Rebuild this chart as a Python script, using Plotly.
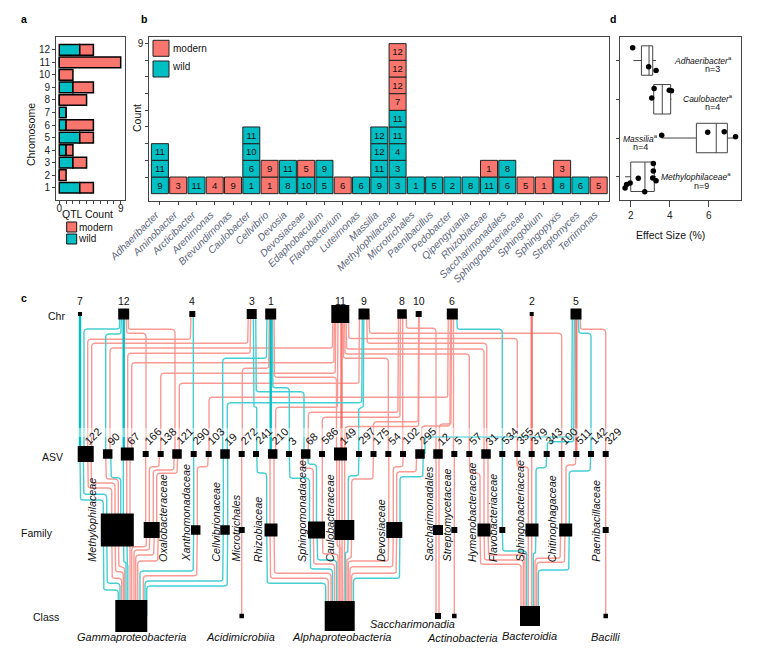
import math
import plotly.graph_objects as go

MOD, WILD = "#F8766D", "#00BFC4"
MOD_L, WILD_L = "#FB9A94", "#45CFD2"
FONT = "Liberation Sans"
W, H = 776, 648

# ---------- panel a ----------
chrom = list(range(1, 13))
qtl_wild = [3, 0, 2, 1, 3, 1, 1, 0, 2, 0, 0, 3]
qtl_modern = [2, 1, 2, 1, 2, 4, 0, 4, 3, 2, 9, 2]

# ---------- panel b ----------
genera = ["Adhaeribacter", "Aminobacter", "Arcticibacter", "Arenimonas", "Brevundimonas", "Caulobacter",
          "Cellvibrio", "Devosia", "Devosiaceae", "Edaphobaculum", "Flavobacterium", "Luteimonas", "Massilia",
          "Methylophilaceae", "Microtrichales", "Paenibacillus", "Pedobacter", "Qipengyuania", "Rhizobiaceae",
          "Saccharimonadales", "Sphingobacteriaceae", "Sphingobium", "Sphingopyxis", "Streptomyces", "Terrimonas"]
stack_types = ["www", "m", "w", "m", "m", "wwww", "mm", "ww", "wm", "ww", "m", "w", "wwww", "wwwwwmmmm",
               "w", "w", "w", "w", "wm", "ww", "m", "m", "wm", "w", "m"]
stack_chr = [[9, 11, 11], [3], [11], [4], [9], [1, 6, 10, 11], [1, 9], [8, 11], [10, 5], [5, 9], [6], [6],
             [9, 11, 12, 12], [3, 3, 4, 11, 11, 7, 12, 12, 12], [1], [5], [2], [8], [11, 1], [6, 8], [5], [1],
             [8, 3], [6], [5]]

# ---------- panel d ----------
box_names = ["Methylophilaceae", "Massilia", "Caulobacter", "Adhaeribacter"]
box_pos = [1, 2, 3, 4]
box_low = [1.71, 3.59, 3.18, 2.14]
box_q1 = [2.0, 5.37, 3.18, 2.55]
box_med = [2.73, 6.39, 3.62, 2.94]
box_q3 = [3.21, 6.96, 4.05, 3.13]
box_high = [3.30, 7.38, 4.09, 3.30]
pts_x = [3.16, 3.16, 3.13, 3.30, 2.39, 2.72, 1.97, 1.79, 1.71, 3.59, 5.95, 6.80, 7.38,
         3.20, 3.08, 3.98, 4.09, 2.10, 2.92, 3.30]
pts_y = [1.34, 1.15, 0.97, 0.90, 0.96, 0.61, 0.84, 0.80, 0.71, 2.07, 2.15, 2.16, 2.03,
         3.28, 3.03, 3.23, 3.22, 4.33, 3.84, 3.74]

# ---------- panel c: network layout (page axis) ----------
chr_y, asv_y, fam_y, cls_y = 314, 454, 530, 616
chr_nodes = {"7": (80, 4), "12": (123.7, 11), "4": (192.3, 6), "3": (251.7, 10), "1": (270.7, 11), "11": (340.3, 18),
             "9": (364, 11), "8": (402, 9.5), "10": (418.7, 6), "6": (452.3, 11), "2": (531.7, 4), "5": (576, 11)}
asv_nodes = {"122": (85.7, 16), "90": (107.7, 9.5), "67": (127.3, 13), "166": (145.7, 6), "138": (160.7, 6),
             "121": (177, 9.5), "290": (193.7, 6), "103": (208.7, 6), "19": (225, 9.5), "272": (241.7, 6),
             "241": (256, 6), "210": (272.7, 9.5), "3": (289, 6), "68": (305.7, 9.5), "586": (322, 6),
             "149": (340.5, 13), "297": (359, 6), "175": (373.5, 6), "54": (388.3, 6), "102": (403, 6),
             "295": (420, 9.5), "12": (438, 9.5), "5": (454.3, 6), "57": (469.3, 6), "31": (486, 9.5),
             "534": (502.3, 6), "355": (517.3, 6), "379": (531.7, 6), "343": (546.7, 6), "100": (561.7, 6),
             "511": (576.3, 6), "142": (591, 6), "329": (605.7, 6)}
fam_nodes = {"Methylophilaceae": (117.3, 33, 91.7), "Oxalobacteraceae": (151.7, 16, 163),
             "Xanthomonadaceae": (195.7, 9.5, 185.7), "Cellvibrionaceae": (225, 9.5, 215.7),
             "Microtrichales": (241.7, 6, 235), "Rhizobiaceae": (271, 13, 257.7),
             "Sphingomonadaceae": (316.5, 17, 302), "Caulobacteraceae": (344.3, 20, 330),
             "Devosiaceae": (394.3, 16, 380.7), "Saccharimonadales": (438, 10, 428),
             "Streptomycetaceae": (454.3, 6, 446), "Hymenobacteraceae": (484, 13, 472),
             "Flavobacteriaceae": (502.3, 6, 493), "Sphingobacteriaceae": (532, 13, 519),
             "Chitinophagaceae": (565.7, 13, 551.7), "Paenibacillaceae": (605.7, 6, 595.7)}
cls_nodes = {"Gammaproteobacteria": (131.3, 32, 131, 636.7), "Acidimicrobiia": (241.7, 4.5, 240.7, 636.7),
             "Alphaproteobacteria": (339.7, 30, 341, 636.7), "Saccharimonadia": (438, 6, 412, 624.3),
             "Actinobacteria": (454.3, 4.5, 462.3, 637.7), "Bacteroidia": (530, 20, 529.3, 636),
             "Bacilli": (605.7, 4.5, 605.7, 637)}

# (source, target, type, x at source, y of horizontal run or None, x at target, heavy)
chr_asv = [
    ("7", "122", "w", 80, None, 80, 1), ("12", "122", "w", 120, 329, 84, 0), ("12", "90", "w", 121.5, 334, 105.7, 0),
    ("12", "67", "w", 123.7, None, 123.7, 1), ("12", "166", "m", 126, 333.3, 146, 0),
    ("12", "121", "m", 128, 329.3, 175, 0), ("4", "290", "w", 193.3, None, 193.3, 0),
    ("4", "122", "m", 191, 339.3, 87.7, 0), ("3", "122", "m", 248.3, 343.3, 91.7, 0),
    ("3", "67", "m", 250.7, 353.3, 127.7, 0), ("3", "241", "w", 253.3, 406.7, 256.7, 0),
    ("3", "68", "w", 255.7, 391.7, 304, 0), ("1", "19", "w", 267, 358.3, 222.7, 0),
    ("11", "67", "m", 334.5, 362.7, 131.7, 0), ("1", "272", "m", 269.3, 368.3, 242.3, 0),
    ("1", "210", "w", 270.7, None, 270.7, 1), ("1", "3", "w", 272.3, 387.7, 289.3, 0),
    ("1", "149", "m", 274, 377.3, 336.5, 0), ("11", "90", "m", 333, 348, 110, 0),
    ("11", "138", "m", 335.8, 373.3, 160.7, 0), ("11", "149", "m", 341.5, None, 341.5, 1),
    ("11", "210", "m", 338, 407.3, 275.7, 0),
    ("11", "54", "m", 343, 358.3, 388.3, 0), ("11", "57", "m", 344.5, 354, 469.3, 0),
    ("11", "31", "m", 346, 349, 484, 0), ("11", "355", "m", 348.3, 338.5, 517.3, 0),
    ("9", "121", "m", 359.5, 383.3, 179.3, 0), ("9", "19", "w", 362.3, 402.7, 227.3, 0),
    ("9", "297", "w", 363.8, 407.3, 358.7, 0), ("9", "31", "m", 366.7, 343.3, 486.7, 0),
    ("9", "100", "m", 369, 333.3, 561.7, 0),
    ("8", "68", "m", 398.5, 412.3, 308.3, 0), ("8", "586", "m", 400.5, 417.3, 322.3, 0),
    ("8", "102", "m", 402.7, None, 402.7, 0), ("8", "12", "m", 406, 328.3, 436, 0),
    ("10", "175", "m", 418.7, 421.7, 373.5, 0), ("10", "149", "m", 419.2, 426.5, 345, 0),
    ("6", "103", "m", 448.3, 397.3, 209, 0), ("6", "295", "m", 450.5, 426, 421.7, 0),
    ("6", "12", "m", 451.5, 424, 439.5, 0), ("6", "5", "m", 453.5, None, 453.5, 0),
    ("6", "534", "w", 456.7, 329.3, 502.3, 0), ("2", "379", "m", 531.7, None, 531.7, 1),
    ("5", "295", "w", 572.3, 436.7, 425, 0), ("5", "343", "w", 574.3, 441.7, 547.3, 0),
    ("5", "511", "m", 576.3, None, 576.3, 1), ("5", "142", "w", 578.3, 333.3, 591, 0),
    ("5", "329", "m", 580, 329.3, 605.7, 0)]
asv_fam = [
    ("122", "Methylophilaceae", "w", 80, 500, 103.3, 0), ("122", "Methylophilaceae", "w", 83.3, 494.3, 106.7, 0),
    ("122", "Methylophilaceae", "m", 87.7, 488, 111.7, 0), ("122", "Methylophilaceae", "m", 91, 483, 115, 0),
    ("90", "Methylophilaceae", "m", 105.7, 479, 118.3, 0), ("90", "Methylophilaceae", "w", 110.7, 477.7, 120.7, 0),
    ("67", "Methylophilaceae", "w", 123.3, None, 123.3, 0), ("67", "Methylophilaceae", "m", 126.7, None, 126.7, 0),
    ("67", "Methylophilaceae", "m", 130, None, 130, 0), ("166", "Oxalobacteraceae", "m", 145.7, None, 145.7, 0),
    ("138", "Oxalobacteraceae", "m", 159.5, 466.7, 149.3, 0), ("121", "Oxalobacteraceae", "m", 174.3, 470, 153.3, 0),
    ("121", "Oxalobacteraceae", "m", 177.7, 473.3, 156.7, 0), ("290", "Xanthomonadaceae", "w", 193.7, None, 193.7, 0),
    ("103", "Xanthomonadaceae", "m", 208.3, 466.7, 197.3, 0),
    ("19", "Cellvibrionaceae", "w", 223.3, None, 223.3, 0), ("19", "Cellvibrionaceae", "w", 227.7, None, 227.7, 0),
    ("272", "Microtrichales", "m", 241.7, None, 241.7, 0), ("241", "Rhizobiaceae", "w", 256.7, 473, 266.7, 0),
    ("210", "Rhizobiaceae", "m", 270, None, 270, 0), ("210", "Rhizobiaceae", "m", 274, None, 274, 0),
    ("3", "Sphingomonadaceae", "w", 289.3, 478.3, 309.5, 0), ("68", "Sphingomonadaceae", "m", 302.7, 468.3, 313.3, 0),
    ("68", "Sphingomonadaceae", "w", 307.7, 464.3, 316.5, 0), ("586", "Sphingomonadaceae", "m", 322.3, None, 322.3, 0),
    ("149", "Caulobacteraceae", "m", 336.7, None, 336.7, 0), ("149", "Caulobacteraceae", "m", 339.3, None, 339.3, 0),
    ("149", "Caulobacteraceae", "m", 342, None, 342, 0), ("149", "Caulobacteraceae", "m", 344.7, None, 344.7, 0),
    ("297", "Caulobacteraceae", "w", 359, 475.7, 348.3, 0), ("175", "Caulobacteraceae", "m", 373.5, 479, 351.7, 0),
    ("54", "Devosiaceae", "m", 388.8, None, 388.8, 0), ("102", "Devosiaceae", "m", 403.3, 466.7, 393.3, 0),
    ("295", "Devosiaceae", "m", 416.7, 471.7, 396.7, 0), ("295", "Devosiaceae", "w", 423.3, 476.7, 400, 0),
    ("12", "Saccharimonadales", "m", 436, None, 436, 0), ("12", "Saccharimonadales", "m", 439, None, 439, 0),
    ("5", "Streptomycetaceae", "m", 454.3, None, 454.3, 0), ("57", "Hymenobacteraceae", "m", 469.3, 473.3, 480, 0),
    ("31", "Hymenobacteraceae", "m", 484, None, 484, 0), ("31", "Hymenobacteraceae", "m", 488, None, 488, 0),
    ("534", "Flavobacteriaceae", "w", 502.3, None, 502.3, 0), ("355", "Sphingobacteriaceae", "m", 516.7, 466.7, 528.3, 0),
    ("379", "Sphingobacteriaceae", "m", 531.7, None, 531.7, 0), ("343", "Sphingobacteriaceae", "w", 546.7, 467.7, 536, 0),
    ("100", "Chitinophagaceae", "m", 561.7, None, 561.7, 0), ("511", "Chitinophagaceae", "m", 576, 465, 566, 0),
    ("142", "Chitinophagaceae", "w", 590.7, 471, 569.3, 0), ("329", "Paenibacillaceae", "m", 605.7, None, 605.7, 0)]
fam_cls = [
    ("Methylophilaceae", "Gammaproteobacteria", "w", 103.3, 590, 118.3, 0),
    ("Methylophilaceae", "Gammaproteobacteria", "w", 106.7, 583.3, 120, 0),
    ("Methylophilaceae", "Gammaproteobacteria", "m", 111.7, 578.3, 121.7, 0),
    ("Methylophilaceae", "Gammaproteobacteria", "m", 115, 571.7, 123.3, 0),
    ("Methylophilaceae", "Gammaproteobacteria", "m", 118.3, 566.7, 124.5, 0),
    ("Methylophilaceae", "Gammaproteobacteria", "w", 123.3, 561.7, 126, 0),
    ("Methylophilaceae", "Gammaproteobacteria", "w", 126.7, 565, 127.8, 0),
    ("Methylophilaceae", "Gammaproteobacteria", "m", 130, None, 130, 0),
    ("Oxalobacteraceae", "Gammaproteobacteria", "m", 146.7, 546.7, 131.7, 0),
    ("Oxalobacteraceae", "Gammaproteobacteria", "m", 150, 550, 134, 0),
    ("Oxalobacteraceae", "Gammaproteobacteria", "m", 154.3, 555, 135.7, 0),
    ("Oxalobacteraceae", "Gammaproteobacteria", "m", 158.3, 561, 137.7, 0),
    ("Xanthomonadaceae", "Gammaproteobacteria", "w", 193.7, 571, 140, 0),
    ("Xanthomonadaceae", "Gammaproteobacteria", "m", 197.3, 575.7, 143.3, 0),
    ("Cellvibrionaceae", "Gammaproteobacteria", "w", 223.3, 581, 145, 0),
    ("Cellvibrionaceae", "Gammaproteobacteria", "w", 227.7, 586, 146.7, 0),
    ("Microtrichales", "Acidimicrobiia", "m", 241.7, None, 241.7, 0),
    ("Rhizobiaceae", "Alphaproteobacteria", "w", 266.7, 583.3, 325.7, 0),
    ("Rhizobiaceae", "Alphaproteobacteria", "m", 270, 578.3, 328.3, 0),
    ("Rhizobiaceae", "Alphaproteobacteria", "m", 274, 573.3, 331, 0),
    ("Sphingomonadaceae", "Alphaproteobacteria", "w", 310, 569, 332.5, 0),
    ("Sphingomonadaceae", "Alphaproteobacteria", "m", 313.3, 564, 334.5, 0),
    ("Sphingomonadaceae", "Alphaproteobacteria", "w", 317, 560, 336.5, 0),
    ("Sphingomonadaceae", "Alphaproteobacteria", "m", 322.3, 554, 338, 0),
    ("Caulobacteraceae", "Alphaproteobacteria", "m", 336.7, 546, 339.5, 0),
    ("Caulobacteraceae", "Alphaproteobacteria", "m", 339.3, 548, 341, 0),
    ("Caulobacteraceae", "Alphaproteobacteria", "m", 342, None, 342.5, 0),
    ("Caulobacteraceae", "Alphaproteobacteria", "m", 344.7, None, 344, 0),
    ("Caulobacteraceae", "Alphaproteobacteria", "w", 348.3, 552, 345.5, 0),
    ("Caulobacteraceae", "Alphaproteobacteria", "m", 351.7, 558, 347, 0),
    ("Devosiaceae", "Alphaproteobacteria", "m", 388.8, 561, 348.3, 0),
    ("Devosiaceae", "Alphaproteobacteria", "m", 393.3, 566.7, 350, 0),
    ("Devosiaceae", "Alphaproteobacteria", "m", 396.7, 573.3, 351.7, 0),
    ("Devosiaceae", "Alphaproteobacteria", "w", 400, 578.3, 353.5, 0),
    ("Saccharimonadales", "Saccharimonadia", "m", 436, None, 436, 0),
    ("Saccharimonadales", "Saccharimonadia", "m", 439, None, 439, 0),
    ("Streptomycetaceae", "Actinobacteria", "m", 454.3, None, 454.3, 0),
    ("Hymenobacteraceae", "Bacteroidia", "m", 480, 564.3, 521, 0),
    ("Hymenobacteraceae", "Bacteroidia", "m", 484, 560, 523.3, 0),
    ("Hymenobacteraceae", "Bacteroidia", "m", 488, 555, 525, 0),
    ("Flavobacteriaceae", "Bacteroidia", "w", 502.3, 551, 526.7, 0),
    ("Sphingobacteriaceae", "Bacteroidia", "m", 528.3, None, 528.3, 0),
    ("Sphingobacteriaceae", "Bacteroidia", "m", 531.7, None, 531.7, 0),
    ("Sphingobacteriaceae", "Bacteroidia", "w", 536, 553, 533.3, 0),
    ("Chitinophagaceae", "Bacteroidia", "m", 560.7, 558.3, 535, 0),
    ("Chitinophagaceae", "Bacteroidia", "m", 565, 562.3, 536.7, 0),
    ("Chitinophagaceae", "Bacteroidia", "w", 569.3, 570, 538.3, 0),
    ("Paenibacillaceae", "Bacilli", "m", 605.7, None, 605.7, 0)]


def route(xs, ys, yc, xd, yd, r=3.0):
    if yc is None:
        return [xs, xd], [ys, yd]
    sgn = 1 if xd > xs else -1
    rr = min(r, abs(xd - xs) / 2)
    px, py = [xs], [ys]
    for k in range(6):
        a = k / 5 * math.pi / 2
        px.append(xs + sgn * rr * (1 - math.cos(a)))
        py.append(yc - rr + rr * math.sin(a))
    for k in range(6):
        a = k / 5 * math.pi / 2
        px.append(xd - sgn * rr + sgn * rr * math.sin(a))
        py.append(yc + rr - rr * math.cos(a))
    px.append(xd)
    py.append(yd)
    return px, py


def dom(l, r, t, b):
    return dict(x=[l / W, r / W], y=[1 - b / H, 1 - t / H])


fig = go.Figure()
ax_common = dict(showline=True, mirror=True, linecolor="#444", linewidth=1, zeroline=False, showgrid=False,
                 automargin=False, ticks="outside", ticklen=3, tickcolor="#444",
                 tickfont=dict(family=FONT, size=10, color="#222"))

# page axis (network and free text)
layers = {}
for links, ya, yb in ((chr_asv, chr_y, asv_y), (asv_fam, asv_y, fam_y), (fam_cls, fam_y, cls_y)):
    for s, t, kind, xs, yc, xd, heavy in links:
        px, py = route(xs, ya, yc, xd, yb)
        lx, ly = layers.setdefault((kind, heavy), ([], []))
        lx += px + [None]
        ly += py + [None]
for (kind, heavy), (lx, ly) in sorted(layers.items()):
    col = {("m", 0): MOD_L, ("w", 0): WILD_L, ("m", 1): MOD, ("w", 1): WILD}[(kind, heavy)]
    fig.add_trace(go.Scatter(x=lx, y=ly, mode="lines", line=dict(color=col, width=2.4 if heavy else 1.4),
                             xaxis="x4", yaxis="y4", showlegend=False, hoverinfo="skip"))

nx = [v[0] for v in chr_nodes.values()] + [v[0] for v in asv_nodes.values()] + \
     [v[0] for v in fam_nodes.values()] + [v[0] for v in cls_nodes.values()]
ny = [chr_y] * len(chr_nodes) + [asv_y] * len(asv_nodes) + [fam_y] * len(fam_nodes) + [cls_y] * len(cls_nodes)
ns = [v[1] for v in chr_nodes.values()] + [v[1] for v in asv_nodes.values()] + \
     [v[1] for v in fam_nodes.values()] + [v[1] for v in cls_nodes.values()]
fig.add_trace(go.Scatter(x=nx, y=ny, mode="markers", xaxis="x4", yaxis="y4", showlegend=False,
                         marker=dict(symbol="square", color="black", size=ns, opacity=1, line=dict(width=0))))

# legends
fig.add_trace(go.Scatter(x=[71.7, 71.7], y=[227, 239], mode="markers", xaxis="x4", yaxis="y4", showlegend=False,
                         marker=dict(symbol="square", size=10, color=[MOD, WILD], opacity=1, line=dict(color="#111", width=1))))
fig.add_trace(go.Scatter(x=[161, 161], y=[48.3, 69], mode="markers", xaxis="x4", yaxis="y4", showlegend=False,
                         marker=dict(symbol="square", size=16, color=[MOD, WILD], opacity=1, line=dict(color="#222", width=1))))

# panel a
fig.add_trace(go.Bar(y=chrom, x=qtl_wild, orientation="h", marker=dict(color=WILD, line=dict(color="black", width=1.5)),
                     width=0.85, xaxis="x", yaxis="y", showlegend=False))
fig.add_trace(go.Bar(y=chrom, x=qtl_modern, base=qtl_wild, orientation="h",
                     marker=dict(color=MOD, line=dict(color="black", width=1.5)),
                     width=0.85, xaxis="x", yaxis="y", showlegend=False))

# panel b
for level in range(max(len(c) for c in stack_chr)):
    idx = [i for i, c in enumerate(stack_chr) if len(c) > level]
    fig.add_trace(go.Bar(x=[genera[i] for i in idx], y=[1] * len(idx), base=[level] * len(idx),
                         marker=dict(color=[MOD if stack_types[i][level] == "m" else WILD for i in idx],
                                     line=dict(color="#222", width=1)),
                         text=[str(stack_chr[i][level]) for i in idx], textposition="inside",
                         insidetextanchor="middle", textangle=0, constraintext="none",
                         textfont=dict(family=FONT, size=9.5, color="#111"),
                         width=0.93, xaxis="x2", yaxis="y2", showlegend=False))

# panel d
fig.add_trace(go.Box(y=box_pos, lowerfence=box_low, q1=box_q1, median=box_med, q3=box_q3, upperfence=box_high,
                     orientation="h", width=0.76, whiskerwidth=0, fillcolor="rgba(0,0,0,0)",
                     line=dict(color="#444", width=1), boxpoints=False, xaxis="x3", yaxis="y3", showlegend=False))
fig.add_trace(go.Scatter(x=pts_x, y=pts_y, mode="markers", marker=dict(color="black", size=5.5),
                         xaxis="x3", yaxis="y3", showlegend=False))

ann = []


def T(x, y, s, size=10, color="#111", xa="center", ya="middle", angle=0, ital=False, bold=False):
    if ital:
        s = "<i>" + s + "</i>"
    if bold:
        s = "<b>" + s + "</b>"
    ann.append(dict(x=x, y=y, xref="x4", yref="y4", text=s, showarrow=False, xanchor=xa, yanchor=ya, textangle=angle,
                    font=dict(family=FONT, size=size, color=color), borderpad=0, borderwidth=0))


for s, x, y in (("a", 24, 19), ("b", 144, 19), ("d", 613, 19), ("c", 24, 298)):
    T(x, y, s, 10.5, "#000", bold=True)
T(31, 135, "Chromosome", 10.5, angle=-90)
T(87, 214, "QTL Count", 10.5)
T(79, 227, "modern", 10, xa="left")
T(78, 238, "wild", 10, xa="left")
T(173, 48.5, "modern", 10, xa="left")
T(172, 66.5, "wild", 10, xa="left")
T(137, 118, "Count", 10.5, angle=-90)
T(670, 235, "Effect Size (%)", 10.5)
T(56, 316, "Chr", 10.5)
T(52.7, 457, "ASV", 10.5)
T(37, 533, "Family", 10.5)
T(46, 617, "Class", 10.5)
T(731.7, 60, "<i>Adhaeribacter</i><sup>a</sup>", 8.5, xa="right")
T(712, 68.5, "n=3", 9)
T(733, 98, "<i>Caulobacter</i><sup>a</sup>", 8.5, xa="right")
T(712, 106.5, "n=4", 9)
T(623, 138, "<i>Massilia</i><sup>a</sup>", 8.5, xa="left")
T(640.7, 146.5, "n=4", 9)
T(730.7, 176, "<i>Methylophilaceae</i><sup>a</sup>", 8.5, xa="right")
T(701, 185.5, "n=9", 9)
for k, (x, s) in chr_nodes.items():
    T(x, 301, k, 10.5)
for k, (x, s) in asv_nodes.items():
    T(x - 3, 447, k, 11, xa="left", ya="bottom", angle=-45)
for k, (x, s, lx) in fam_nodes.items():
    T(lx, 562, k, 10.8, xa="center", ya="bottom", angle=-90, ital=True)
for k, (x, s, lx, ly) in cls_nodes.items():
    T(lx, ly, k, 11, ital=True)

fig.update_layout(
    width=W, height=H, margin=dict(l=0, r=0, t=0, b=0, autoexpand=False), autosize=False, paper_bgcolor="white",
    plot_bgcolor="rgba(0,0,0,0)", barmode="overlay", annotations=ann,
    shapes=[dict(type="rect", xref="x4", yref="y4", x0=78, x1=620, y0=428, y1=437,
                 fillcolor="rgba(255,255,255,0.45)", line=dict(width=0), layer="above")],
    xaxis=dict(domain=dom(56, 125, 37.3, 200)["x"], range=[-0.48, 9.63], tickvals=[0, 9], anchor="y",
               ticklabelstandoff=-4,
               minor=dict(tickvals=list(range(1, 9)), ticks="outside", ticklen=3, tickcolor="#444"), **ax_common),
    yaxis=dict(domain=dom(56, 125, 37.3, 200)["y"], range=[0.02, 13.0], tickvals=chrom, anchor="x", **ax_common),
    xaxis2=dict(domain=dom(149.3, 609.3, 37.3, 201)["x"], type="category", categoryorder="array", categoryarray=genera,
                tickvals=genera, ticktext=["<i>" + g + "</i>" for g in genera],
                range=[-0.58, 24.58], tickangle=-45, anchor="y2", ticklabelshift=-4,
                **{**ax_common, "tickfont": dict(family=FONT, size=10.2, color="#5A6478")}),
    yaxis2=dict(domain=dom(149.3, 609.3, 37.3, 201)["y"], range=[-0.44, 9.38], tickvals=[9], anchor="x2",
                minor=dict(tickvals=list(range(1, 9)), ticks="outside", ticklen=3, tickcolor="#444"), **ax_common),
    xaxis3=dict(domain=dom(620, 741, 37.3, 200)["x"], range=[1.45, 7.66], tickvals=[2, 4, 6], anchor="y3",
                **{**ax_common, "ticklen": 6}),
    yaxis3=dict(domain=dom(620, 741, 37.3, 200)["y"], range=[0.4, 4.6], tickvals=box_pos, showticklabels=False, anchor="x3",
                **ax_common),
    xaxis4=dict(domain=[0, 1], range=[0, W], visible=False, anchor="y4", automargin=False),
    yaxis4=dict(domain=[0, 1], range=[H, 0], visible=False, anchor="x4", automargin=False),
)
fig.write_html("out.html", post_script="document.body.style.margin='0';", config={"displayModeBar": False})
